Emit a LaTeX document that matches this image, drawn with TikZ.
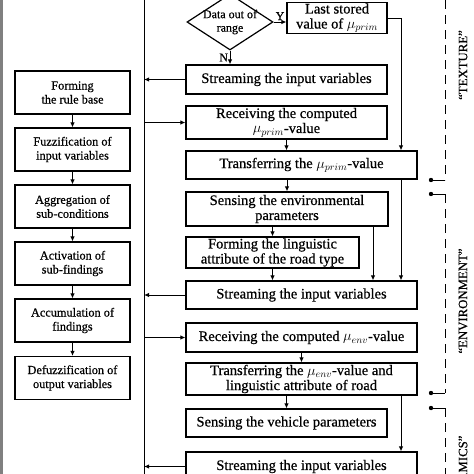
\documentclass[tikz,border=0pt]{standalone}
\usepackage{fontspec}
\setmainfont{Liberation Serif}[FakeBold=0.6]
\usetikzlibrary{shapes.geometric,arrows.meta}

\begin{document}
\begin{tikzpicture}[x=1pt,y=-1pt,
        blk/.style={draw,line width=1.2pt,align=center,inner sep=1pt,font=\fontsize{14.5}{15}\selectfont},
        lblk/.style={draw,line width=1.2pt,align=center,inner sep=1pt,minimum width=115pt,minimum height=43pt,font=\fontsize{12.3}{14}\selectfont},
        arr/.style={-{Latex[length=5pt,width=4.5pt]},line width=1pt},
        ln/.style={line width=1pt},
        lbl/.style={font=\fontsize{12}{13}\selectfont,inner sep=1.5pt},
        side/.style={rotate=90,font=\fontsize{12.8}{14}\selectfont},
        brk/.style={line width=1pt,dash pattern=on 9pt off 6pt}]
        \useasboundingbox(0,0)rectangle(474,474);
        \clip(0,0)rectangle(474,474);
        \fill[black!50](0,0)rectangle(2.5,474);

        \coordinate(mtop)at(144,0);
        \coordinate(mbot)at(144,474);
        \coordinate(rx)at(401,0);
        \coordinate(sx)at(373,0);
        \draw[ln](mtop)--(mbot);

        \node[lblk](rule)at(72.5,92.5){Forming\\the rule base};
        \node[lblk](fuzz)at(72.5,149.5){Fuzzification of\\input variables};
        \node[lblk](aggr)at(72.5,206.5){Aggregation of\\sub-conditions};
        \node[lblk](activ)at(72.5,263.5){Activation of\\sub-findings};
        \node[lblk](accum)at(72.5,320.5){Accumulation of\\findings};
        \node[lblk](defuzz)at(72.5,378){Defuzzification of\\output variables};
        \draw[arr](rule)--(fuzz);
        \draw[arr](fuzz)--(aggr);
        \draw[arr](aggr)--(activ);
        \draw[arr](activ)--(accum);
        \draw[arr](accum)--(defuzz);

        \node[diamond,draw,line width=1.2pt,minimum width=86pt,minimum height=56pt,inner sep=0pt](chk)at(230,22){};
        \node[lbl,align=center,font=\fontsize{12}{13.5}\selectfont](chktxt)at(chk){Data out of\\range};
        \node[blk,minimum width=100pt,minimum height=28pt](last)at(337,18){Last stored\\value of $\mu_{prim}$};
        \node[blk,minimum width=201pt,minimum height=29pt](stream1)at(286.5,79.5){Streaming the input variables};
        \node[blk,minimum width=201pt,minimum height=33pt](recvprim)at(286.5,122.5){Receiving the computed\\$\mu_{prim}$-value};
        \node[blk,minimum width=231pt,minimum height=28pt](transprim)at(301.5,165){Transferring the $\mu_{prim}$-value};
        \node[blk,minimum width=202pt,minimum height=34pt](senseenv)at(287,209){Sensing the environmental\\parameters};
        \node[blk,minimum width=173pt,minimum height=31pt](road)at(272.5,252.5){Forming the linguistic\\attribute of the road type};
        \node[blk,minimum width=231pt,minimum height=28pt](stream2)at(301.5,295){Streaming the input variables};
        \node[blk,minimum width=231pt,minimum height=29pt](recvenv)at(301.5,337.5){Receiving the computed $\mu_{env}$-value};
        \node[blk,minimum width=231pt,minimum height=32pt](transenv)at(301.5,379){Transferring the $\mu_{env}$-value and\\linguistic attribute of road};
        \node[blk,minimum width=201pt,minimum height=28pt](sensveh)at(286.5,423){Sensing the vehicle parameters};
        \node[blk,minimum width=231pt,minimum height=29pt](stream3)at(301.5,466.5){Streaming the input variables};

        \draw[arr](chk.east)--(chk.east-|last.west)node[lbl,midway,above]{Y};
        \draw[arr](chk.south)--(chk.south|-stream1.north)node[lbl,midway,left]{N};
        \draw[arr](stream1.west)--(stream1.west-|mtop);
        \draw[arr](recvprim.west-|mtop)--(recvprim.west);
        \draw[arr](last.east)-|(transprim.north-|rx);
        \draw[arr](recvprim.south)--(recvprim.south|-transprim.north);
        \draw[arr](senseenv.north|-transprim.south)--(senseenv.north);
        \draw[arr](transprim.south-|rx)--(stream2.north-|rx);
        \draw[arr](road.north|-senseenv.south)--(road.north);
        \draw[arr](senseenv.south-|sx)--(stream2.north-|sx);
        \draw[arr](road.south)--(road.south|-stream2.north);
        \draw[arr](stream2.west)--(stream2.west-|mtop);
        \draw[arr](recvenv.west-|mtop)--(recvenv.west);
        \draw[arr](recvenv.south)--(transenv.north);
        \draw[arr](sensveh.north|-transenv.south)--(sensveh.north);
        \draw[arr](transenv.south-|rx)--(stream3.north-|rx);
        \draw[arr](stream3.west)--(stream3.west-|mtop);

        \coordinate(b1t)at(445,0);
        \coordinate(b1b)at(445,180);
        \coordinate(d1)at(431,180);
        \coordinate(b2t)at(445,194);
        \coordinate(b2b)at(445,393);
        \coordinate(d2)at(431,194);
        \coordinate(d3)at(431,393);
        \coordinate(b3t)at(445,408);
        \coordinate(b3b)at(445,474);
        \coordinate(d4)at(431,408);
        \draw[brk](b1t)--(b1b);
        \draw[brk](b2t)--(b2b);
        \draw[brk](b3t)--(b3b);
        \draw[ln](d1)--(b1b);
        \draw[ln](d2)--(b2t);
        \draw[ln](d3)--(b2b);
        \draw[ln](d4)--(b3t);
        \foreach \d in {d1,d2,d3,d4}
            \fill(\d)circle(2.2pt);

        \node[side](tex)at(463,65){``TEXTURE''};
        \node[side](env)at(463,301){``ENVIRONMENT''};
        \node[side,anchor=east](dyn)at(463,432){``DYNAMICS''};
    \end{tikzpicture}
\end{document}
